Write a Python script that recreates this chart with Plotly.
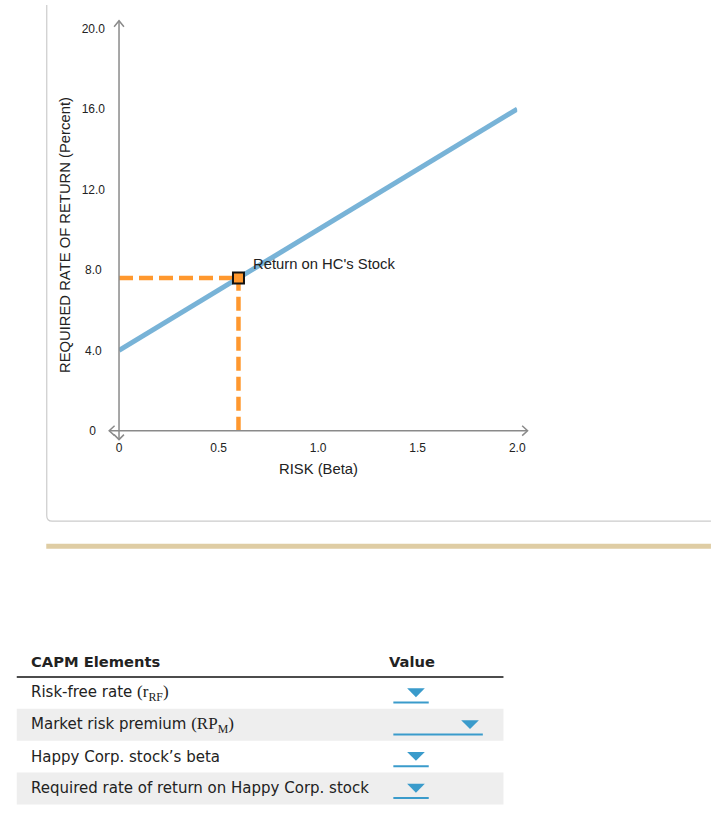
import plotly.graph_objects as go

# ---------------- data ----------------
beta = [0.0, 2.0]
required_return = [4.0, 16.0]
hc_beta = 0.6
hc_return = 7.6
point_label = "Return on HC's Stock"

x_tick_vals = [0, 0.5, 1.0, 1.5, 2.0]
x_tick_text = ["0", "0.5", "1.0", "1.5", "2.0"]
y_tick_vals = [0, 4, 8, 12, 16, 20]
y_tick_text = ["0\u00a0\u00a0\u2009", "4.0\u00a0", "8.0\u00a0", "12.0", "16.0", "20.0"]

x_title = "RISK (Beta)"
y_title = "REQUIRED RATE OF RETURN (Percent)"

table_header = ["CAPM Elements", "Value"]
table_rows = [
    'Risk-free rate <span style="font-family:Liberation Serif;font-size:17px">(r<sub>RF</sub>)</span>',
    'Market risk premium <span style="font-family:Liberation Serif;font-size:17px">(RP<sub>M</sub>)</span>',
    "Happy Corp. stock’s beta",
    "Required rate of return on Happy Corp. stock",
]
dropdown_wide = [False, True, False, False]

# ---------------- geometry helpers ----------------
W, H = 716, 829


def px(x):
    return x / W


def py(y):
    return 1 - y / H


X0, X1 = 118, 523   # pixel of beta 0 and 2
Y0, Y1 = 431, 22    # pixel of return 0 and 20

BLUE = "#78b3d7"
ORANGE = "#ff982e"
AXIS = "#8a8a8a"
TXT = "#222222"
SANS = "Liberation Sans, Arial"
VERD = "DejaVu Sans, Verdana"

fig = go.Figure()

# dashed guide lines
fig.add_trace(go.Scatter(x=[beta[0], hc_beta], y=[hc_return, hc_return], mode="lines",
                         line=dict(color=ORANGE, width=4.5, dash="14px,6px"),
                         hoverinfo="skip", showlegend=False, cliponaxis=False))
fig.add_trace(go.Scatter(x=[hc_beta, hc_beta], y=[0, hc_return], mode="lines",
                         line=dict(color=ORANGE, width=4.5, dash="14px,6px"),
                         hoverinfo="skip", showlegend=False, cliponaxis=False))
# security market line
fig.add_trace(go.Scatter(x=beta, y=required_return, mode="lines",
                         line=dict(color=BLUE, width=5),
                         hoverinfo="skip", showlegend=False, cliponaxis=False))
# HC point
fig.add_trace(go.Scatter(x=[hc_beta], y=[hc_return], mode="markers",
                         marker=dict(symbol="square", size=11, color=ORANGE,
                                     line=dict(color="#111111", width=2)),
                         hoverinfo="skip", showlegend=False, cliponaxis=False))

fig.add_annotation(x=hc_beta, y=hc_return, xref="x", yref="y", text=point_label,
                   showarrow=False, xanchor="left", yanchor="middle", xshift=13, yshift=13.5,
                   font=dict(family=SANS, size=14.8, color=TXT))

shapes = []
line_style = dict(color=AXIS, width=1.5)
# axes lines
shapes.append(dict(type="line", xref="paper", yref="paper", x0=px(X0), x1=px(X0),
                   y0=py(440), y1=py(14), line=line_style))
shapes.append(dict(type="line", xref="paper", yref="paper", x0=px(108), x1=px(533),
                   y0=py(Y0), y1=py(Y0), line=line_style))


def chevron(points):
    d = "M " + " L ".join(f"{px(a):.6f},{py(b):.6f}" for a, b in points)
    return dict(type="path", xref="paper", yref="paper", path=d, line=line_style)


shapes.append(chevron([(113, 20), (118, 14), (123, 20)]))        # up
shapes.append(chevron([(528, 426), (533.5, 431), (528, 436)]))    # right
shapes.append(chevron([(113.5, 426), (108, 431), (113.5, 436)]))  # left
shapes.append(chevron([(113, 435), (118, 440), (123, 435)]))      # down

# card border
card = (f"M {px(44.5)},{py(-2)} L {px(44.5)},{py(517.5)} "
        f"Q {px(44.5)},{py(523)} {px(50)},{py(523)} L {px(720)},{py(523)}")
shapes.append(dict(type="path", xref="paper", yref="paper", path=card,
                   line=dict(color="#cccccc", width=1.2)))
# tan separator
shapes.append(dict(type="rect", xref="paper", yref="paper", x0=px(44), x1=px(720),
                   y0=py(551), y1=py(546), fillcolor="#dfcda4", line=dict(width=0)))

# table
row_top = 681.5
row_h = 32.4
for i in range(len(table_rows)):
    top = row_top + i * row_h
    if i % 2 == 1:
        shapes.append(dict(type="rect", xref="paper", yref="paper", x0=px(14), x1=px(509),
                           y0=py(top + row_h), y1=py(top), fillcolor="#eeeeee",
                           line=dict(width=0), layer="below"))
shapes.append(dict(type="line", xref="paper", yref="paper", x0=px(14), x1=px(509),
                   y0=py(681.5), y1=py(681.5), line=dict(color="#111111", width=1.6)))

fig.add_annotation(x=px(26), y=py(665.5), xref="paper", yref="paper",
                   text=f"<b>{table_header[0]}</b>", showarrow=False,
                   xanchor="left", yanchor="middle",
                   font=dict(family=VERD, size=14.7, color=TXT))
fig.add_annotation(x=px(416), y=py(665.5), xref="paper", yref="paper",
                   text=f"<b>{table_header[1]}</b>", showarrow=False,
                   xanchor="center", yanchor="middle",
                   font=dict(family=VERD, size=14.7, color=TXT))

DD = "#3a9bcb"
for i, label in enumerate(table_rows):
    top = row_top + i * row_h
    cy = top + row_h / 2
    fig.add_annotation(x=px(26), y=py(cy), xref="paper", yref="paper", text=label,
                       showarrow=False, xanchor="left", yanchor="middle",
                       font=dict(family=VERD, size=15, color=TXT))
    right = 488 if dropdown_wide[i] else 433
    ul = top + 26
    shapes.append(dict(type="line", xref="paper", yref="paper", x0=px(397), x1=px(right),
                       y0=py(ul), y1=py(ul), line=dict(color=DD, width=2)))
    tx1 = right - 4
    tx0 = tx1 - 18
    t_top = top + 11.5
    tri = (f"M {px(tx0)},{py(t_top)} L {px(tx1)},{py(t_top)} "
           f"L {px((tx0 + tx1) / 2)},{py(t_top + 9)} Z")
    shapes.append(dict(type="path", xref="paper", yref="paper", path=tri,
                       fillcolor=DD, line=dict(width=0)))

# axis titles
fig.add_annotation(x=px(62.5), y=py(231.5), xref="paper", yref="paper", text=y_title,
                   showarrow=False, textangle=-90, xanchor="center", yanchor="middle",
                   font=dict(family=SANS, size=14.8, color=TXT))
fig.add_annotation(x=px(321), y=py(470), xref="paper", yref="paper", text=x_title,
                   showarrow=False, xanchor="center", yanchor="middle",
                   font=dict(family=SANS, size=14.8, color=TXT))

fig.update_layout(
    width=W, height=H,
    margin=dict(l=0, r=0, t=0, b=0),
    paper_bgcolor="white", plot_bgcolor="rgba(0,0,0,0)",
    shapes=shapes,
    xaxis=dict(domain=[px(X0), px(X1)], range=[0, 2], showgrid=False, zeroline=False,
               showline=False, ticks="", tickvals=x_tick_vals, ticktext=x_tick_text,
               ticklabelstandoff=8, fixedrange=True,
               tickfont=dict(family=SANS, size=12, color=TXT)),
    yaxis=dict(domain=[py(Y0), py(Y1)], range=[0, 20], showgrid=False, zeroline=False,
               showline=False, ticks="", tickvals=y_tick_vals, ticktext=y_tick_text,
               ticklabelstandoff=13, fixedrange=True,
               tickfont=dict(family=SANS, size=12, color=TXT)),
)

post = """
var de = document.documentElement, b = document.body;
de.style.margin = '0'; de.style.padding = '0'; de.style.overflow = 'hidden';
b.style.margin = '0'; b.style.padding = '0'; b.style.overflow = 'hidden';
"""

fig.write_html("out.html", config={"displayModeBar": False}, post_script=post)
